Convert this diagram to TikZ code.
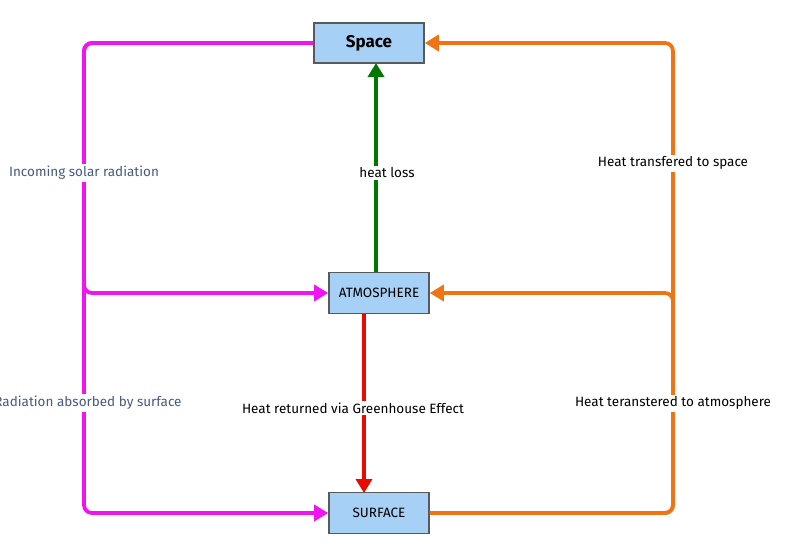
\documentclass[tikz,border=0pt]{standalone}
\usepackage{fontspec}
\setmainfont{Fira Sans}
\usetikzlibrary{arrows.meta}
\begin{document}
\begin{tikzpicture}[x=1pt,y=-1pt,
  box/.style={draw=black!65,line width=1.6pt,fill={rgb,255:red,166;green,208;blue,245},minimum height=40pt,inner sep=0pt,font=\fontsize{13.5}{15}\selectfont},
  conn/.style={line width=3.8pt,rounded corners=8pt,-{Triangle[length=14pt,width=16pt]}},
  lbl/.style={fill=white,inner sep=2pt,font=\fontsize{13.5}{15}\selectfont},
  blbl/.style={lbl,text={rgb,255:red,70;green,90;blue,130}}]
\useasboundingbox (0,0) rectangle (800,550);
\clip (0,0) rectangle (800,550);
\definecolor{mag}{RGB}{240,20,240}
\definecolor{ora}{RGB}{240,115,20}
\definecolor{grn}{RGB}{0,120,0}
\definecolor{rd}{RGB}{230,10,0}
\node[box,minimum width=110pt,font=\fontsize{17}{19}\selectfont\bfseries] (space) at (369,43) {Space};
\node[box,minimum width=100pt,minimum height=41pt] (atm) at (379,293) {ATMOSPHERE};
\node[box,minimum width=100pt,minimum height=41pt] (surf) at (379,513) {SURFACE};
\draw[conn,mag] (space.west) -- (84,43) -- (84,293) -- (atm.west);
\draw[conn,mag] (space.west) -- (84,43) -- (84,513) -- (surf.west);
\draw[conn,ora] (surf.east) -- (673,513) -- (673,293) -- (atm.east);
\draw[conn,ora] (surf.east) -- (673,513) -- (673,43) -- (space.east);
\draw[conn,rounded corners=0pt,grn] (376,272) -- (376,63);
\draw[conn,rounded corners=0pt,rd] (364,314) -- (364,493);
\node[blbl] (l1) at (84,173) {Incoming solar radiation};
\node[blbl] (l2) at (88,403) {Radiation absorbed by surface};
\node[lbl] (l3) at (387,173) {heat loss};
\node[lbl] (l4) at (353,408) {Heat returned via Greenhouse Effect};
\node[lbl] (l5) at (673,163) {Heat transfered to space};
\node[lbl] (l6) at (673,403) {Heat teranstered to atmosphere};
\end{tikzpicture}
\end{document}
